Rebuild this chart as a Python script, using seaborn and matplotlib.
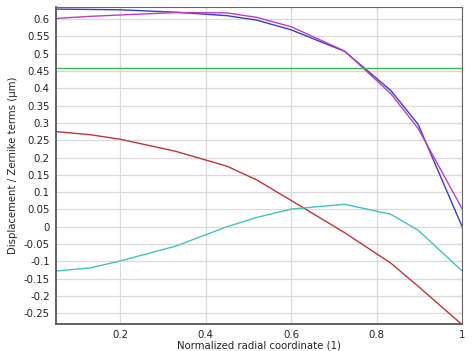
import numpy as np
import pandas as pd
import matplotlib
matplotlib.use('Agg')
import matplotlib.pyplot as plt
import seaborn as sns
from matplotlib.ticker import FuncFormatter, MultipleLocator

#------------------------------------------------------------------------------
# DATA
#------------------------------------------------------------------------------

r = [0.05, 0.13, 0.2, 0.33, 0.45, 0.52, 0.6, 0.725, 0.833, 0.897, 1.0]

disp_a = [0.629, 0.628, 0.627, 0.620, 0.610, 0.597, 0.569, 0.507, 0.394, 0.296, 0.0]
disp_b = [0.602, 0.608, 0.612, 0.619, 0.618, 0.605, 0.578, 0.508, 0.385, 0.284, 0.052]
piston = [0.458] * len(r)
offset = [0.451] * len(r)
defocus = [0.275, 0.266, 0.253, 0.218, 0.175, 0.135, 0.076, -0.017, -0.105, -0.172, -0.283]
spheric = [-0.128, -0.119, -0.099, -0.056, 0.000, 0.027, 0.051, 0.065, 0.036, -0.010, -0.128]

series_names = ['disp_a', 'disp_b', 'piston', 'offset', 'defocus', 'spheric']
series_vals = [disp_a, disp_b, piston, offset, defocus, spheric]
colors = ['#3a3ad0', '#bd3dbd', '#3cba50', '#ecd2ac', '#c03434', '#3fc4c0']
widths = [1.0, 1.0, 1.0, 0.8, 1.0, 1.0]

df = pd.concat([pd.DataFrame({'r': r, 'val': v, 'series': n})
                for n, v in zip(series_names, series_vals)], ignore_index=True)

#------------------------------------------------------------------------------
# PLOTTING
#------------------------------------------------------------------------------

sns.set_style('white')
plt.rcParams['font.family'] = ['DejaVu Sans']

fig = plt.figure(figsize=(4.74, 3.51), dpi=100)
ax = fig.add_axes([0.118, 0.077, 0.857, 0.903])

# draw the faint one first so the green sits on top
order = ['offset', 'disp_a', 'disp_b', 'piston', 'defocus', 'spheric']
for n in order:
    i = series_names.index(n)
    sns.lineplot(data=df[df.series == n], x='r', y='val', color=colors[i],
                 lw=widths[i], ax=ax, legend=False, estimator=None, sort=False)

ax.set_xlim(0.05, 1.0)
ax.set_ylim(-0.281, 0.635)
ax.set_xticks([0.2, 0.4, 0.6, 0.8, 1.0])
ax.yaxis.set_major_locator(MultipleLocator(0.05))
fmt = FuncFormatter(lambda v, p: ('%g' % round(v, 3)).replace('\u2212', '-'))
ax.xaxis.set_major_formatter(fmt)
ax.yaxis.set_major_formatter(fmt)

ax.grid(True, color='#dadada', lw=0.9)
ax.set_axisbelow(True)
ax.tick_params(direction='out', length=3, width=0.8, color='#555555',
               labelsize=7.3, labelcolor='#222222', pad=1.5)

for s in ['left', 'bottom']:
    ax.spines[s].set_color('#555555')
    ax.spines[s].set_linewidth(1.3)
for s in ['top', 'right']:
    ax.spines[s].set_color('#666666')
    ax.spines[s].set_linewidth(0.8)

# mirrored ticks inside on top/right
sx = ax.secondary_xaxis('top')
sx.set_xticks([0.2, 0.4, 0.6, 0.8, 1.0])
sx.tick_params(direction='in', length=3, width=0.8, color='#555555', labeltop=False)
sx.spines['top'].set_visible(False)
sy = ax.secondary_yaxis('right')
sy.yaxis.set_major_locator(MultipleLocator(0.05))
sy.tick_params(direction='in', length=3, width=0.8, color='#555555', labelright=False)
sy.spines['right'].set_visible(False)

ax.set_xlabel('Normalized radial coordinate (1)', fontsize=7.3, color='#222222', labelpad=0)
ax.set_ylabel('Displacement / Zernike terms (µm)', fontsize=7.3, color='#222222', labelpad=4)

fig.savefig('out.png', dpi=100)
plt.close(fig)
